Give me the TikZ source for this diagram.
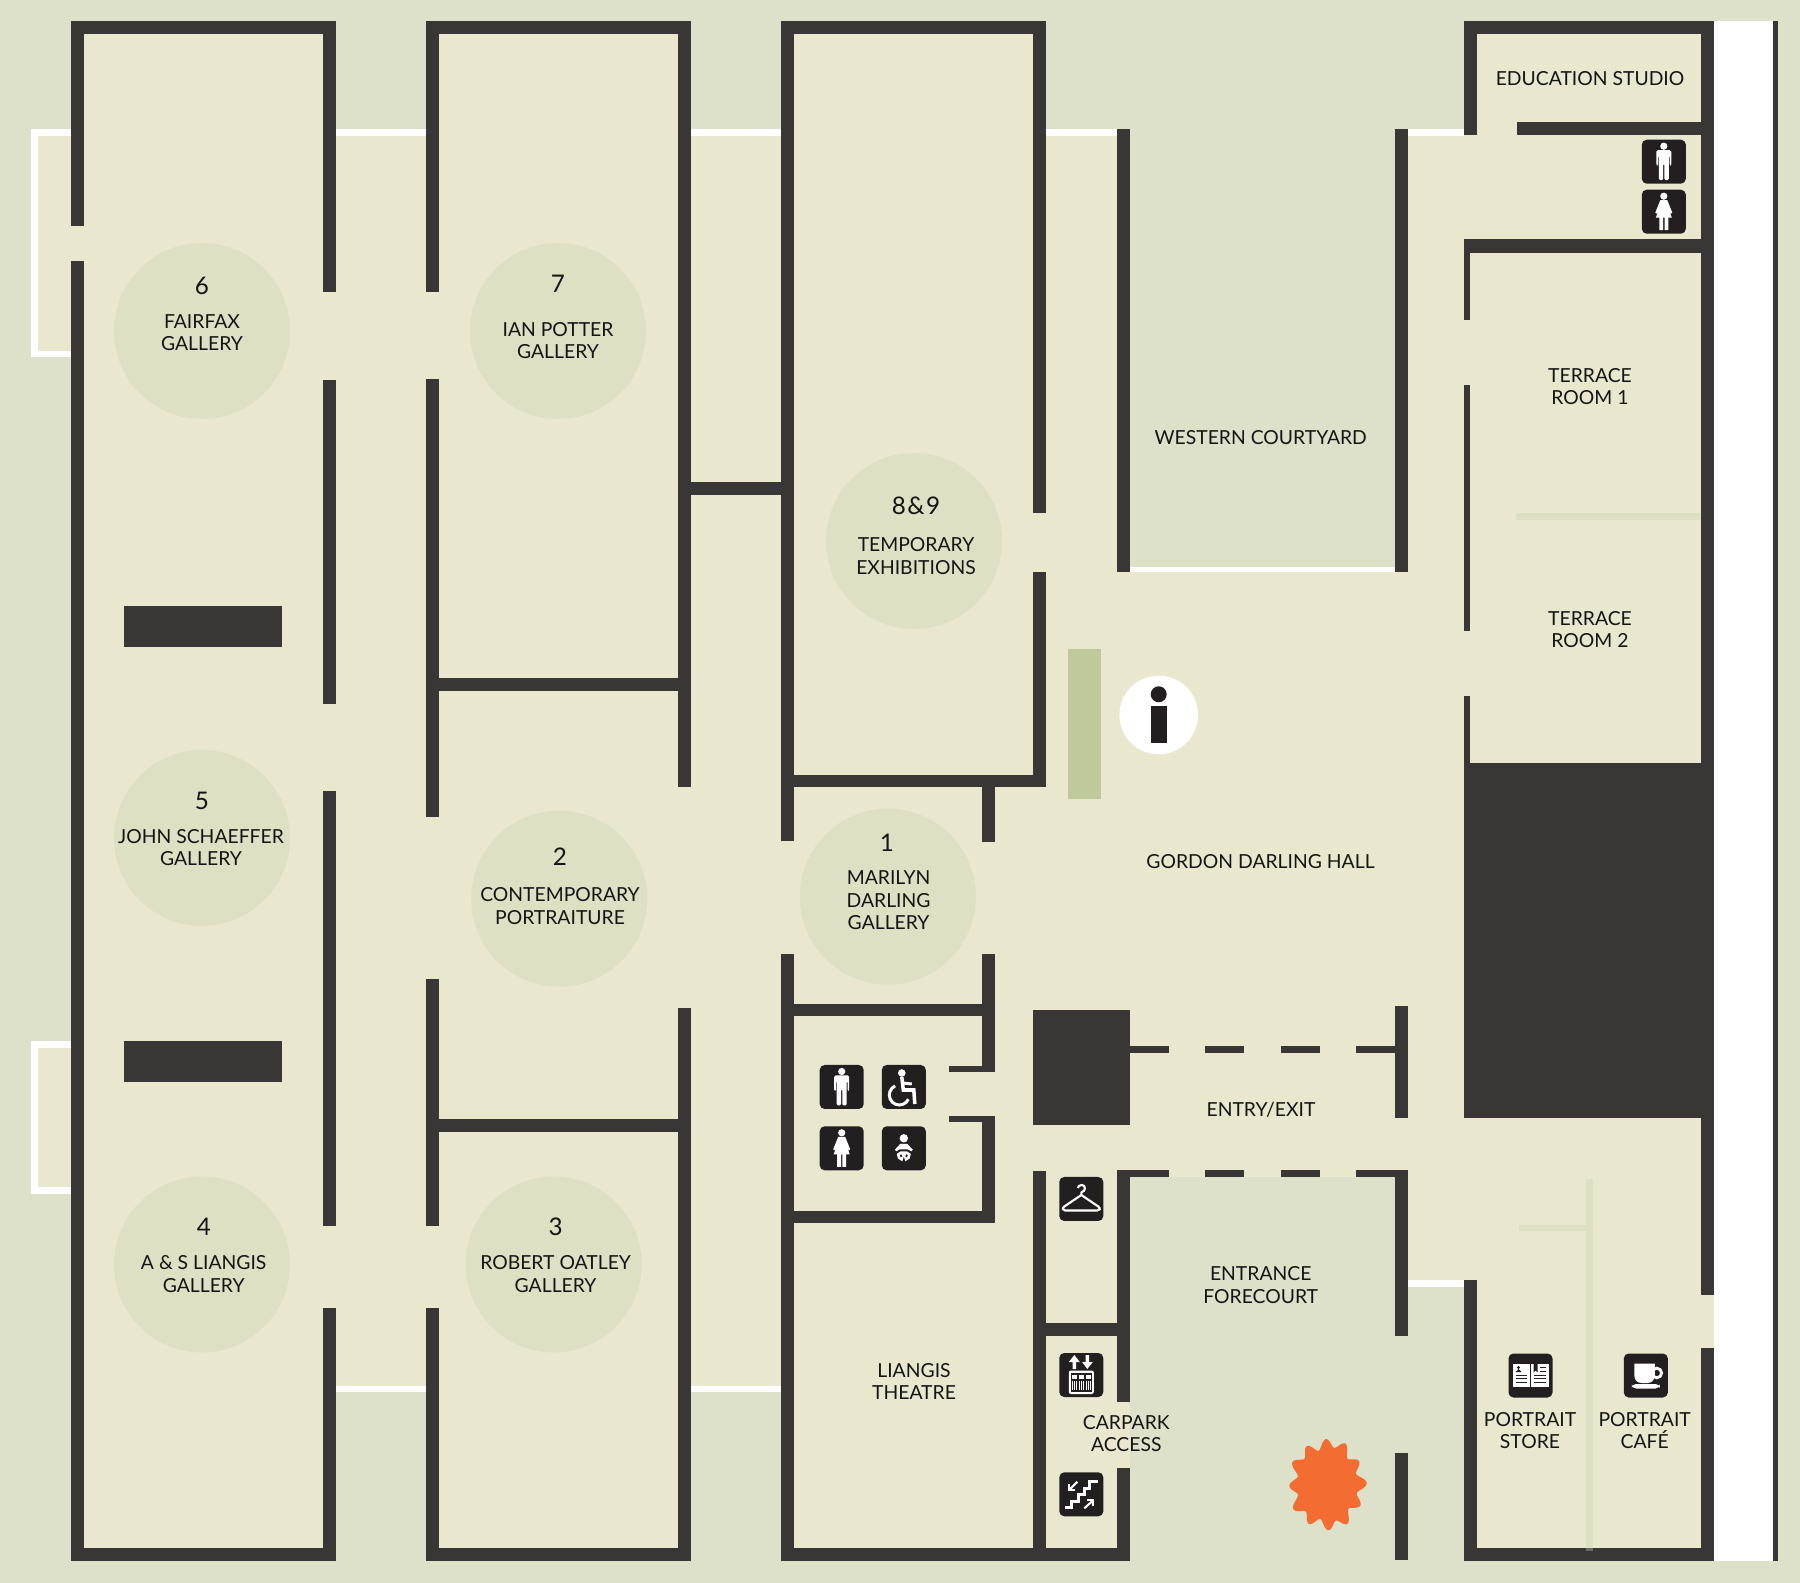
\documentclass[tikz,border=0pt]{standalone}
\usepackage{fontspec}
\setmainfont{Lato}
\usepackage{xcolor}
\definecolor{groundcol}{HTML}{DDE1C9}
\definecolor{floorcol}{HTML}{E9E8CE}
\definecolor{wallcol}{HTML}{383735}
\definecolor{iconcol}{HTML}{231F20}
\definecolor{discol}{HTML}{DDE0C3}
\definecolor{deskcol}{HTML}{BFC99B}
\definecolor{starcol}{HTML}{F36C32}
\definecolor{inkcol}{HTML}{151515}
\tikzset{
  wall/.style={fill=wallcol},
  floorarea/.style={fill=floorcol},
  glass/.style={fill=white},
  faint/.style={fill=discol},
  disc/.style={fill=discol},
  lbl/.style={inner sep=0pt, align=center, text=inkcol, yshift=-0.2pt, font=\fontsize{5.5}{6.4}\selectfont},
  num/.style={inner sep=0pt, text=inkcol, yshift=-0.2pt, font=\fontsize{6.9}{7}\selectfont},
  iconbox/.style={fill=iconcol, rounded corners=1.4pt},
  iconline/.style={draw=white, line width=0.85pt},
  iconman/.pic={
    \fill[iconbox] (-22,-22) rectangle (22,22);
    \fill[white] (0,-15.5) circle[radius=3.6];
    \fill[white, rounded corners=0.4pt] (-7.5,-11.5) -- (7.5,-11.5) -- (7.5,4) -- (5.8,4) -- (5.8,-6) -- (5,-6) -- (5,18.5) -- (0.6,18.5) -- (0.6,2) -- (-0.6,2) -- (-0.6,18.5) -- (-5,18.5) -- (-5,-6) -- (-5.8,-6) -- (-5.8,4) -- (-7.5,4) -- cycle;
  },
  iconwoman/.pic={
    \fill[iconbox] (-22,-22) rectangle (22,22);
    \fill[white] (0,-15.5) circle[radius=3.6];
    \fill[white] (-3.5,-11.5) -- (3.5,-11.5) -- (8.5,1) -- (7,2) -- (4,-5) -- (8,6) -- (4.5,6) -- (4.5,18.5) -- (0.7,18.5) -- (0.7,6) -- (-0.7,6) -- (-0.7,18.5) -- (-4.5,18.5) -- (-4.5,6) -- (-8,6) -- (-4,-5) -- (-7,2) -- (-8.5,1) -- cycle;
  },
  iconchair/.pic={
    \fill[iconbox] (-22,-22) rectangle (22,22);
    \fill[white] (-2,-14) circle[radius=3.8];
    \draw[iconline, line width=1pt] (-2,-10) -- (-0.5,3) -- (10,3) -- (11,17);
    \draw[iconline] (-1,-4) -- (8,-3);
    \draw[iconline] (-4.5,8) ++(-115:10) arc[start angle=-115, end angle=-335, radius=10];
  },
  iconbaby/.pic={
    \fill[iconbox] (-22,-22) rectangle (22,22);
    \fill[white] (0,-10) circle[radius=4.2];
    \fill[white] (-3.5,-4.5) -- (3.5,-4.5) -- (9,1.5) -- (7.5,3) -- (4,1) -- (-4,1) -- (-7.5,3) -- (-9,1.5) -- cycle;
    \fill[white] (-7,5.5) -- (-3,3) -- (3,3) -- (7,5.5) -- (6,10) -- (1.5,13) -- (0.3,9) -- (-0.3,9) -- (-1.5,13) -- (-6,10) -- cycle;
    \fill[iconcol] (-4,7) -- (-2.5,6) -- (-1.5,8) -- (-3,9) -- cycle;
    \fill[iconcol] (4,7) -- (2.5,6) -- (1.5,8) -- (3,9) -- cycle;
  },
  iconhanger/.pic={
    \fill[iconbox] (-22,-22) rectangle (22,22);
    \draw[white, line width=0.6pt] (0,-4) -- (17,7.5) .. controls (19.5,9.5) and (18.5,11.5) .. (16,11.5) -- (-16,11.5) .. controls (-18.5,11.5) and (-19.5,9.5) .. (-17,7.5) -- cycle;
    \draw[white, line width=0.6pt] (0,-4) -- (0,-6.5) .. controls (5,-8) and (4.5,-14) .. (0.5,-14) .. controls (-2,-14) and (-3.5,-12.5) .. (-3.5,-11);
  },
  iconlift/.pic={
    \fill[iconbox] (-22,-22) rectangle (22,22);
    \fill[white] (-7,-20) -- (-1.5,-13) -- (-5.2,-13) -- (-5.2,-6) -- (-8.8,-6) -- (-8.8,-13) -- (-12.5,-13) -- cycle;
    \fill[white] (6,-6) -- (0.8,-13) -- (4.2,-13) -- (4.2,-20) -- (7.8,-20) -- (7.8,-13) -- (11.5,-13) -- cycle;
    \fill[white, rounded corners=0.6pt] (-12.5,-4.5) rectangle (12.5,19);
    \fill[iconcol] (-10.5,-2) rectangle (10.5,16.5);
    \foreach \cx in {-7,0,7} {
      \fill[white] (\cx-2.6,-0.5) rectangle (\cx+2.6,4);
      \fill[white] (\cx-2.6,5.5) rectangle (\cx-1.4,15);
      \fill[white] (\cx-0.6,5.5) rectangle (\cx+0.6,15);
      \fill[white] (\cx+1.4,5.5) rectangle (\cx+2.6,15);
    }
  },
  iconstairs/.pic={
    \fill[iconbox] (-22,-22) rectangle (22,22);
    \draw[iconline] (-16,13.5) -- (-10,13.5) -- (-10,7) -- (-3,7) -- (-3,0.5) -- (3.5,0.5) -- (3.5,-6) -- (8,-6) -- (8,-12.5) -- (17,-12.5);
    \draw[iconline, line width=0.6pt] (-4,-12.5) -- (-12,-4.5);
    \draw[iconline, line width=0.6pt] (-12,-10.5) -- (-12,-4.5) -- (-6,-4.5);
    \draw[iconline, line width=0.6pt] (3,14) -- (12,6);
    \draw[iconline, line width=0.6pt] (6,6) -- (12,6) -- (12,12);
  },
  iconbook/.pic={
    \fill[iconbox] (-22,-22) rectangle (22,22);
    \fill[white] (-18,-12) rectangle (-0.7,11.5);
    \fill[white] (0.7,-12) rectangle (18,11.5);
    \fill[iconcol] (-12,-8) circle[radius=1.6];
    \fill[iconcol] (-15,-3.5) -- (-12,-6.5) -- (-9,-3.5) -- cycle;
    \fill[iconcol] (3,-12) -- (7,-12) -- (7,-3) -- (5,-5) -- (3,-3) -- cycle;
    \foreach \ly in {-1,2.5,6} {
      \fill[iconcol] (-15,\ly) rectangle (-3.5,\ly+1.2);
      \fill[iconcol] (3.5,\ly) rectangle (15.5,\ly+1.2);
    }
    \fill[iconcol] (9.5,-8.5) rectangle (15.5,-7.3);
    \fill[iconcol] (9.5,-5) rectangle (15.5,-3.8);
  },
  iconcup/.pic={
    \fill[iconbox] (-22,-22) rectangle (22,22);
    \draw[white, line width=0.8pt] (11,-2.5) circle[radius=4.8];
    \fill[white] (-11.5,-12) -- (9,-12) -- (9,0) .. controls (9,5) and (5,7.5) .. (2,7.5) -- (-4,7.5) .. controls (-8,7.5) and (-11.5,5) .. (-11.5,0) -- cycle;
    \fill[white, rounded corners=1.2pt] (-14,8.5) rectangle (14,13);
  },
}

\begin{document}
\begin{tikzpicture}[x=0.01cm, y=-0.01cm]
  \useasboundingbox (0,0) rectangle (1800,1583);
  \fill[groundcol] (0,0) rectangle (1800,1583);

  \fill[glass] (31,129) rectangle (70.5,357);
  \fill[floorarea] (37.7,135.7) rectangle (70.5,350.7);
  \fill[glass] (31,1041.3) rectangle (70.5,1194.3);
  \fill[floorarea] (37.7,1048) rectangle (70.5,1187.3);
  \fill[floorarea] (70.5,21) rectangle (335.5,1560);
  \fill[floorarea] (335.5,135.7) rectangle (426,1385.7);
  \fill[floorarea] (426,21) rectangle (691,1560);
  \fill[floorarea] (691,135.7) rectangle (781,1385.7);
  \fill[floorarea] (781,21) rectangle (1046,1560);
  \fill[floorarea] (1046,135.7) rectangle (1117,1560);
  \fill[floorarea] (1117,572) rectangle (1408,1176.6);
  \fill[floorarea] (1117,1176.6) rectangle (1130,1560);
  \fill[floorarea] (1408,135.7) rectangle (1464,1280);
  \fill[floorarea] (1464,21) rectangle (1713.7,1560);

  \fill[glass] (335.5,129) rectangle (426,135.7);
  \fill[glass] (691,129) rectangle (781,135.7);
  \fill[glass] (1046,129) rectangle (1117,135.7);
  \fill[glass] (1408,129) rectangle (1464,135.7);
  \fill[glass] (335.5,1385.7) rectangle (426,1392);
  \fill[glass] (691,1385.7) rectangle (781,1392);
  \fill[glass] (1130,567.3) rectangle (1395,572);
  \fill[glass] (1408,1280) rectangle (1464,1287);
  \fill[glass] (1713.7,21) rectangle (1772.7,1560.7);

  \fill[faint] (1516,513.3) rectangle (1702,520);
  \fill[faint] (1519,1225.3) rectangle (1586.3,1231.3);
  \fill[faint] (1586.3,1178.7) rectangle (1593,1550.7);

  \fill[wall] (70.5,21) rectangle (335.5,34);
  \fill[wall] (70.5,1547.5) rectangle (335.5,1560.7);
  \fill[wall] (70.5,21) rectangle (83.5,226);
  \fill[wall] (70.5,260.7) rectangle (83.5,1560.7);
  \fill[wall] (322.5,21) rectangle (335.5,292);
  \fill[wall] (322.5,380) rectangle (335.5,704);
  \fill[wall] (322.5,791) rectangle (335.5,1226);
  \fill[wall] (322.5,1308) rectangle (335.5,1560.7);
  \fill[wall] (123.7,606) rectangle (281.7,647);
  \fill[wall] (123.7,1041) rectangle (281.7,1082);

  \fill[wall] (426,21) rectangle (691,34);
  \fill[wall] (426,1547.5) rectangle (691,1560.7);
  \fill[wall] (426,21) rectangle (439,292);
  \fill[wall] (426,379) rectangle (439,817);
  \fill[wall] (426,979) rectangle (439,1226);
  \fill[wall] (426,1308) rectangle (439,1560.7);
  \fill[wall] (678,21) rectangle (691,787);
  \fill[wall] (678,1008.3) rectangle (691,1560.7);
  \fill[wall] (439,678.3) rectangle (678,691);
  \fill[wall] (439,1119.3) rectangle (678,1132);
  \fill[wall] (691,482.5) rectangle (781,495);

  \fill[wall] (781,21) rectangle (1046,34);
  \fill[wall] (781,21) rectangle (794,841);
  \fill[wall] (781,953.7) rectangle (794,1560.7);
  \fill[wall] (1033,21) rectangle (1046,512.7);
  \fill[wall] (1033,571.7) rectangle (1046,787);
  \fill[wall] (781,775) rectangle (1046,787);
  \fill[wall] (982,787) rectangle (994.7,841.7);
  \fill[wall] (982,953.7) rectangle (994.7,1072);
  \fill[wall] (794,1003.7) rectangle (982,1016);
  \fill[wall] (948.6,1065.7) rectangle (994.7,1072);
  \fill[wall] (948.6,1115.7) rectangle (994.7,1121.7);
  \fill[wall] (982,1115.7) rectangle (994.7,1223);
  \fill[wall] (794,1211) rectangle (994.7,1223);
  \fill[wall] (781,1547.5) rectangle (1130,1560.7);
  \fill[wall] (1033,1010) rectangle (1130,1125);
  \fill[wall] (1033,1170.7) rectangle (1046,1560.7);
  \fill[wall] (1046,1323.4) rectangle (1117,1336.4);

  \fill[wall] (1117,129.3) rectangle (1130,572);
  \fill[wall] (1395,129.3) rectangle (1408,572);
  \fill[wall] (1130,1046) rectangle (1168.7,1052.8);
  \fill[wall] (1205.3,1046) rectangle (1244.3,1052.8);
  \fill[wall] (1280.7,1046) rectangle (1319.7,1052.8);
  \fill[wall] (1356.3,1046) rectangle (1395.3,1052.8);
  \fill[wall] (1395.3,1006) rectangle (1408.3,1118);
  \fill[wall] (1117,1170) rectangle (1168.7,1176.6);
  \fill[wall] (1205.3,1170) rectangle (1244.3,1176.6);
  \fill[wall] (1280.7,1170) rectangle (1319.7,1176.6);
  \fill[wall] (1356.3,1170) rectangle (1408.3,1176.6);
  \fill[wall] (1117,1170) rectangle (1130,1402);
  \fill[wall] (1117,1467.7) rectangle (1130,1560.7);
  \fill[wall] (1395.3,1170) rectangle (1408.3,1336.4);
  \fill[wall] (1395.3,1453) rectangle (1408.3,1560);

  \fill[wall] (1464,21) rectangle (1713.7,34);
  \fill[wall] (1464,21) rectangle (1477,135.3);
  \fill[wall] (1516.7,122.3) rectangle (1713.7,135.3);
  \fill[wall] (1464,239.3) rectangle (1713.7,252.7);
  \fill[wall] (1464,239.3) rectangle (1470.3,320);
  \fill[wall] (1464,385) rectangle (1470.3,631.3);
  \fill[wall] (1464,696.3) rectangle (1470.3,763.3);
  \fill[wall] (1464,763.3) rectangle (1713.7,1118);
  \fill[wall] (1700.7,21) rectangle (1713.7,1295);
  \fill[wall] (1700.7,1347.7) rectangle (1713.7,1560.7);
  \fill[wall] (1464,1280.3) rectangle (1477,1560.7);
  \fill[wall] (1464,1547.5) rectangle (1713.7,1560.7);
  \fill[wall] (1772.7,21) rectangle (1778,1560.7);
  \fill[wallcol!70!discol] (1586.3,1547.5) rectangle (1593,1550.7);

  \fill[disc] (202,331) circle[radius=88];
  \fill[disc] (558,331) circle[radius=88];
  \fill[disc] (202,838) circle[radius=88];
  \fill[disc] (559.2,898.7) circle[radius=88];
  \fill[disc] (887.8,896.7) circle[radius=88];
  \fill[disc] (914,541) circle[radius=88];
  \fill[disc] (202,1264.5) circle[radius=88];
  \fill[disc] (553.7,1264.5) circle[radius=88];

  \fill[deskcol] (1068,649.3) rectangle (1101,799.3);
  \fill[white] (1158.7,715) circle[radius=39.3];
  \fill[iconcol] (1158.7,694.3) circle[radius=8];
  \fill[iconcol] (1150.7,706) rectangle (1166.7,742.7);

  \fill[starcol] plot[domain=0:360, samples=240, variable=\t] ({1327+34.5*(1+0.12*cos(12*\t+20)+0.03*cos(5*\t))*cos(\t)},{1484.5+41*(1+0.11*cos(12*\t+20)+0.03*cos(5*\t))*sin(\t)}) -- cycle;

  \pic at (841.7,1087) {iconman};
  \pic at (903.8,1087) {iconchair};
  \pic at (841.7,1148.3) {iconwoman};
  \pic at (903.8,1148.3) {iconbaby};
  \pic at (1663.8,161.7) {iconman};
  \pic at (1663.8,211.7) {iconwoman};
  \pic at (1081.3,1199) {iconhanger};
  \pic at (1081.3,1375) {iconlift};
  \pic at (1081.3,1494.3) {iconstairs};
  \pic at (1530.5,1375.5) {iconbook};
  \pic at (1645.8,1375.5) {iconcup};

  \node[num] (numsix) at (202,285) {6};
  \node[lbl] (fairfax) at (202,332) {FAIRFAX\\GALLERY};
  \node[num] (numseven) at (558,283.6) {7};
  \node[lbl] (ianpotter) at (558,339.8) {IAN POTTER\\GALLERY};
  \node[num] (numfive) at (202,800) {5};
  \node[lbl] (schaeffer) at (201,847) {JOHN SCHAEFFER\\GALLERY};
  \node[num] (numtwo) at (560,855.7) {2};
  \node[lbl] (contemporary) at (560,905.5) {CONTEMPORARY\\PORTRAITURE};
  \node[num] (numone) at (887,841.7) {1};
  \node[lbl] (marilyn) at (888.6,899.7) {MARILYN\\DARLING\\GALLERY};
  \node[num] (numeight) at (916,505) {8\kern0.4pt\&\kern0.4pt 9};
  \node[lbl] (temporary) at (916,555.5) {TEMPORARY\\EXHIBITIONS};
  \node[num] (numfour) at (204,1226) {4};
  \node[lbl] (liangisgal) at (203.7,1273.3) {A \& S LIANGIS\\GALLERY};
  \node[num] (numthree) at (555.6,1226) {3};
  \node[lbl] (oatley) at (555.6,1273.3) {ROBERT OATLEY\\GALLERY};
  \node[lbl] (courtyard) at (1260.7,437) {WESTERN COURTYARD};
  \node[lbl] (studio) at (1590,77.7) {EDUCATION STUDIO};
  \node[lbl] (terraceone) at (1590,385.7) {TERRACE\\ROOM 1};
  \node[lbl] (terracetwo) at (1590,628.8) {TERRACE\\ROOM 2};
  \node[lbl] (hall) at (1260.5,861) {GORDON DARLING HALL};
  \node[lbl] (entry) at (1261,1109) {ENTRY/EXIT};
  \node[lbl] (forecourt) at (1260.7,1284.5) {ENTRANCE\\FORECOURT};
  \node[lbl] (carpark) at (1126.3,1432.8) {CARPARK\\ACCESS};
  \node[lbl] (theatre) at (914,1381) {LIANGIS\\THEATRE};
  \node[lbl] (store) at (1530,1429.8) {PORTRAIT\\STORE};
  \node[lbl] (cafe) at (1644.7,1429.8) {PORTRAIT\\CAFÉ};
\end{tikzpicture}
\end{document}
